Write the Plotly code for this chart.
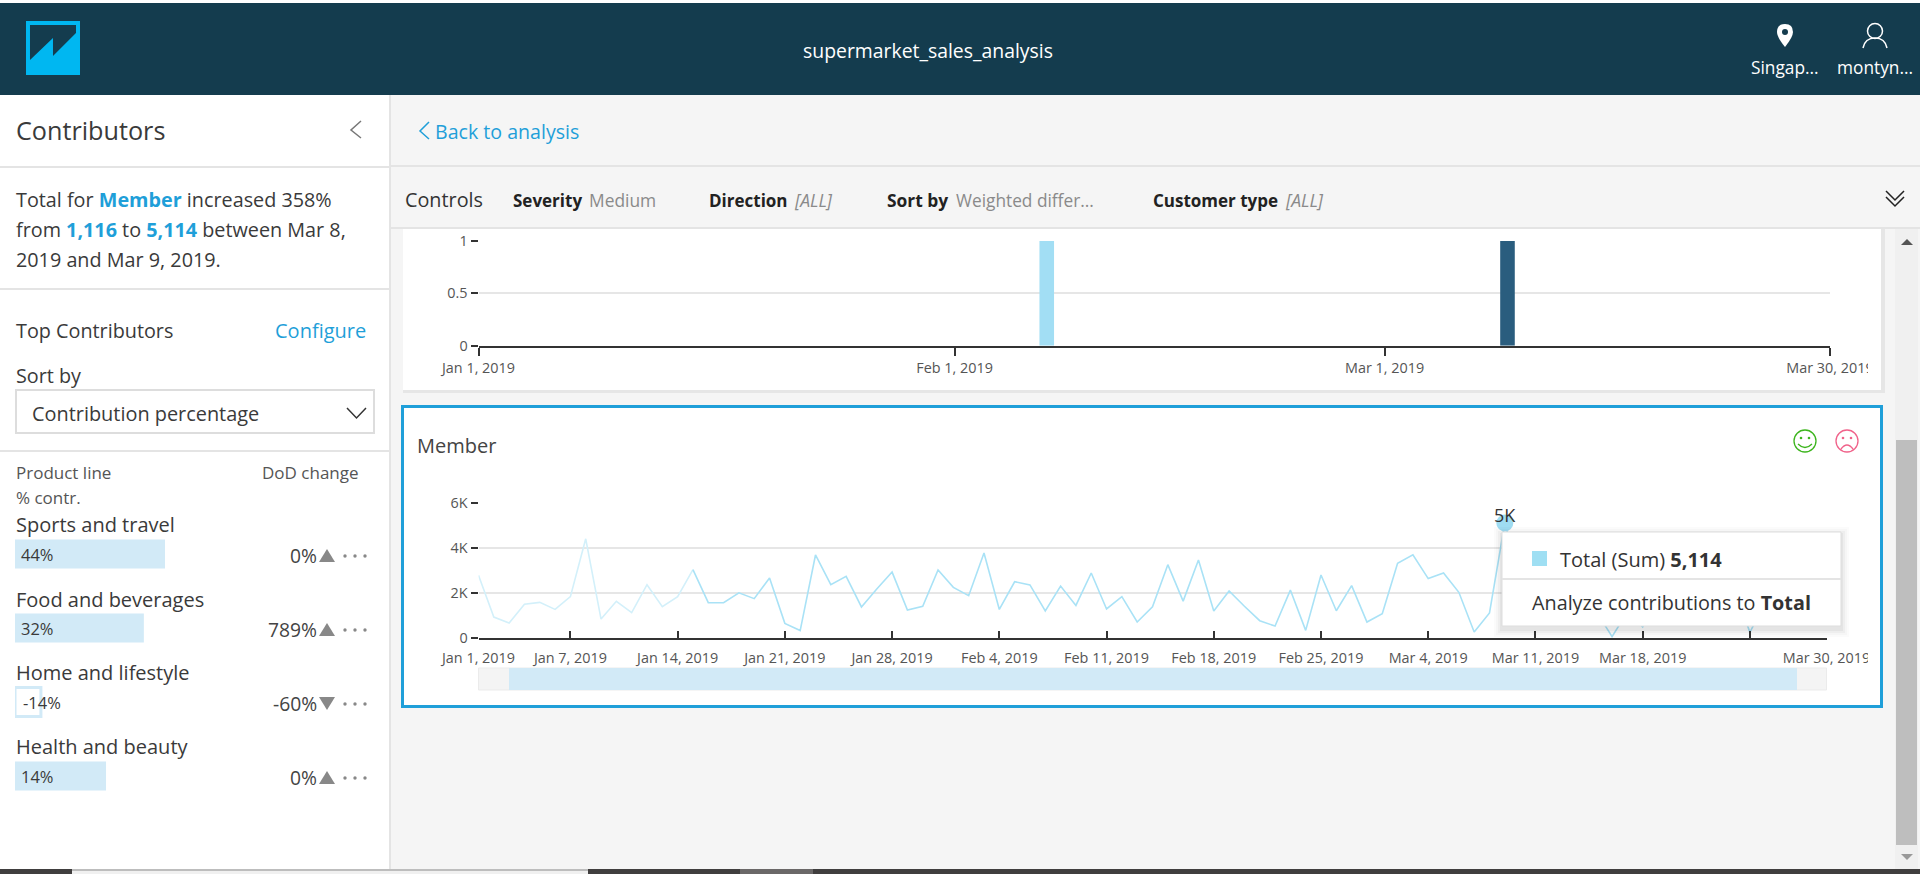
import pandas as pd
import plotly.graph_objects as go

W, H = 1920, 874
FONT = "Open Sans"

# ---- data ----
member_dates = pd.date_range("2019-01-01", "2019-03-30").strftime("%Y-%m-%d").tolist()
member_total = [2785, 930, 670, 1500, 1585, 1270, 1840, 4410, 840, 1630, 1130, 2370, 1390, 1840,
                3040, 1570, 1570, 2010, 1750, 2670, 650, 330, 3690, 2370, 2740, 1380, 2180, 2930,
                1240, 1410, 3020, 2250, 1880, 3780, 1270, 2500, 2360, 1200, 2310, 1450, 2890,
                1290, 1840, 710, 1390, 3260, 1640, 3470, 1200, 2090, 1410, 770, 530, 2130, 340,
                2800, 1210, 2330, 710, 1080, 3320, 3700, 2640, 2890, 2030, 270, 1116, 5114,
                2600, 1800, 2300, 1400, 2100, 1150, 60, 1150, 490, 1900, 2400, 1300, 2000, 1700,
                2200, 250, 1600, 2300, 1200, 1800, 1500]
anomaly_dates = ["2019-02-07", "2019-03-09"]
anomaly_values = [1, 1]
anomaly_colors = ["#A2DEF4", "#2A5D7E"]
anomaly_yticks = [0, 0.5, 1]
anomaly_yticklabels = ["0", "0.5", "1"]
anomaly_xticks = ["2019-01-01", "2019-02-01", "2019-03-01", "2019-03-30"]
anomaly_xticklabels = ["Jan 1, 2019", "Feb 1, 2019", "Mar 1, 2019", "Mar 30, 2019"]
member_xticks = ["2019-01-01", "2019-01-07", "2019-01-14", "2019-01-21", "2019-01-28", "2019-02-04",
                 "2019-02-11", "2019-02-18", "2019-02-25", "2019-03-04", "2019-03-11", "2019-03-18",
                 "2019-03-25", "2019-03-30"]
member_xticklabels = ["Jan 1, 2019", "Jan 7, 2019", "Jan 14, 2019", "Jan 21, 2019", "Jan 28, 2019",
                      "Feb 4, 2019", "Feb 11, 2019", "Feb 18, 2019", "Feb 25, 2019", "Mar 4, 2019",
                      "Mar 11, 2019", "Mar 18, 2019", "", "Mar 30, 2019"]
member_yticks = [0, 2000, 4000, 6000]
member_yticklabels = ["0", "2K", "4K", "6K"]
product_lines = ["Sports and travel", "Food and beverages", "Home and lifestyle", "Health and beauty"]
contribution_labels = ["44%", "32%", "-14%", "14%"]
contribution_bar_lengths = [44, 37.8, 7.6, 26.7]
dod_labels = ["0%", "789%", "-60%", "0%"]
dod_up = [True, True, False, True]

DARK = "#143C4E"
BLUE = "#1F9FD9"
GRID = "#E6E6E6"
INK = "#3A3A3A"
AXIS = "#333333"
PALE = "#D2EAF7"

shapes, annos = [], []


def px(x):
    return x / W


def py(y):
    return 1 - y / H


def rect(x0, y0, x1, y1, fill, line=None, lw=0, layer="below"):
    shapes.append(dict(type="rect", xref="paper", yref="paper", x0=px(x0), x1=px(x1), y0=py(y0), y1=py(y1),
                       fillcolor=fill, line=dict(color=line or fill, width=lw), layer=layer))


def circle(cx, cy, r, fill="rgba(0,0,0,0)", line=None, lw=0, layer="below"):
    shapes.append(dict(type="circle", xref="paper", yref="paper", x0=px(cx - r), x1=px(cx + r), y0=py(cy - r),
                       y1=py(cy + r), fillcolor=fill, line=dict(color=line or fill, width=lw), layer=layer))


def path(cmds, fill=None, line=None, lw=0, layer="below"):
    """cmds: list like [('M',x,y),('L',x,y),('Q',cx,cy,x,y),('Z',)] in page pixels."""
    out = []
    for c in cmds:
        pts = c[1:]
        s = c[0]
        for i in range(0, len(pts), 2):
            s += f" {px(pts[i]):.5f},{py(pts[i + 1]):.5f}"
        out.append(s)
    shapes.append(dict(type="path", xref="paper", yref="paper", path=" ".join(out),
                       fillcolor=fill or "rgba(0,0,0,0)",
                       line=dict(color=line or "rgba(0,0,0,0)", width=lw), layer=layer))


def text(x, y, s, size=15, color=INK, anchor="left"):
    annos.append(dict(xref="paper", yref="paper", x=px(x), y=py(y), text=s, showarrow=False, xanchor=anchor,
                      yanchor="middle", align=anchor, borderpad=0, borderwidth=0,
                      font=dict(family=FONT, size=size, color=color)))


def blue(s):
    return f'<b><span style="color:{BLUE}">{s}</span></b>'


# ---- page chrome ----
rect(0, 0, W, 3, "#FFFFFF")
rect(0, 3, W, 95, DARK)
rect(0, 95, 389, 869, "#FFFFFF")
rect(389, 95, 391, 869, "#E4E4E4")
for y in (167, 289, 451):
    rect(0, y - 1, 389, y + 1, "#E4E4E4")
for y in (166, 228):
    rect(391, y - 1, W, y + 1, "#E4E4E4")

# logo
rect(26, 21, 80, 75, "#00B7F1")
path([("M", 30, 25), ("L", 76, 25), ("L", 76, 33), ("L", 53, 56), ("L", 53, 38), ("L", 30, 60), ("Z",)], fill=DARK)
text(928, 50, "supermarket_sales_analysis", 19.4, "#FFFFFF", "center")
# pin
path([("M", 1785, 47), ("Q", 1777, 37, 1777, 32), ("Q", 1777, 24, 1785, 24), ("Q", 1793, 24, 1793, 32),
      ("Q", 1793, 37, 1785, 47), ("Z",)], fill="#FFFFFF")
circle(1785, 32, 3, DARK)
text(1785, 68, "Singap...", 17.3, "#FFFFFF", "center")
# person
circle(1875, 31, 7.5, "rgba(0,0,0,0)", "#FFFFFF", 1.5)
path([("M", 1863, 48), ("Q", 1865, 38, 1875, 38), ("Q", 1885, 38, 1887, 48)], line="#FFFFFF", lw=1.5)
text(1875, 68, "montyn...", 17.3, "#FFFFFF", "center")

# sidebar
text(16, 130, "Contributors", 25.2)
path([("M", 361, 121), ("L", 351, 130), ("L", 361, 138)], line="#777777", lw=1.5)
text(16, 199, f"Total for {blue('Member')} increased 358%", 19.8)
text(16, 230, f"from {blue('1,116')} to {blue('5,114')} between Mar 8,", 19.8)
text(16, 260, "2019 and Mar 9, 2019.", 19.8)
text(16, 330, "Top Contributors", 19.8)
text(366, 330, "Configure", 20, BLUE, "right")
text(16, 375, "Sort by", 19.8)
shapes.append(dict(type="rect", xref="paper", yref="paper", x0=px(16), x1=px(374), y0=py(390), y1=py(433),
                   fillcolor="#FFFFFF", line=dict(color="#DDDDDD", width=2), layer="below"))
text(32, 413, "Contribution percentage", 19.9)
path([("M", 347, 408), ("L", 356.5, 418), ("L", 366, 408)], line="#333333", lw=1.5)
text(16, 472, "Product line", 17, "#555555")
text(359, 472, "DoD change", 17, "#555555", "right")
text(16, 497, "% contr.", 17, "#555555")

row_title_y = [524, 599, 672, 746]
row_y = [554, 628, 702, 776]
for name, lab, dod, up, ty, ry in zip(product_lines, contribution_labels, dod_labels, dod_up, row_title_y, row_y):
    text(16, ty, name, 20)
    text(23 if lab.startswith("-") else 21, ry, lab, 16.5)
    text(317, ry + 1, dod, 19.3, "#444444", "right")
    if up:
        path([("M", 319, ry + 8), ("L", 327, ry - 5), ("L", 335, ry + 8), ("Z",)], fill="#888888")
    else:
        path([("M", 319, ry - 5), ("L", 335, ry - 5), ("L", 327, ry + 8), ("Z",)], fill="#888888")
    for dx in (345, 355, 365):
        circle(dx, ry + 2, 1.7, "#888888")

# main header rows
path([("M", 429, 122), ("L", 420, 131), ("L", 429, 139)], line=BLUE, lw=1.5)
text(435, 131, "Back to analysis", 19.6, BLUE)
text(405, 199, "Controls", 19.8, "#333333")
text(513, 200, "<b>Severity</b>", 17, "#222222")
text(589, 200, "Medium", 17.4, "#8A8A8A")
text(709, 200, "<b>Direction</b>", 17, "#222222")
text(794, 200, "<i>[ALL]</i>", 17.6, "#8A8A8A")
text(887, 200, "<b>Sort by</b>", 17.4, "#222222")
text(956, 200, "Weighted differ...", 17.3, "#8A8A8A")
text(1153, 200, "<b>Customer type</b>", 17, "#222222")
text(1285, 200, "<i>[ALL]</i>", 17.6, "#8A8A8A")
path([("M", 1886, 191), ("L", 1895, 200), ("L", 1904, 191)], line="#222222", lw=1.5)
path([("M", 1886, 197), ("L", 1895, 206), ("L", 1904, 197)], line="#222222", lw=1.5)

# scroll column
rect(1895, 229, 1918, 869, "#F0F0F0")
rect(1896, 440, 1917, 845, "#BEBEBE")
path([("M", 1901, 245), ("L", 1907, 239), ("L", 1913, 245), ("Z",)], fill="#555555")
path([("M", 1901, 854), ("L", 1913, 854), ("L", 1907, 860), ("Z",)], fill="#999999")

# cards
rect(403, 229, 1881, 390, "#FFFFFF")
rect(403, 390, 1885, 393, GRID)
rect(1881, 229, 1885, 393, GRID)
rect(402.5, 406.5, 1881.5, 706.5, "#FFFFFF", BLUE, 3)
text(417, 445, "Member", 20, "#444444")
circle(1805, 441, 11, "rgba(0,0,0,0)", "#3DB51E", 1.3)
circle(1801, 438, 1.3, "#3DB51E")
circle(1809, 438, 1.3, "#3DB51E")
path([("M", 1798, 444), ("Q", 1805, 451, 1812, 444)], line="#3DB51E", lw=1.3)
circle(1847, 441, 11, "rgba(0,0,0,0)", "#F0628A", 1.3)
circle(1843, 438, 1.3, "#F0628A")
circle(1851, 438, 1.3, "#F0628A")
path([("M", 1841, 449), ("Q", 1847, 441, 1853, 449)], line="#F0628A", lw=1.3)

# range selector
rect(478.5, 668, 1826.5, 690, "#F4F4F4", "#EBEBEB", 1)
rect(509, 668, 1797, 690, PALE)

# bottom strip
rect(0, 869, W, H, "#403E3E")
rect(72, 869, 588, H, "#F0F0F0")
rect(72, 869, 588, 871, "#BDBDBD")
rect(740, 869, 813, H, "#6B6868")

# clip of the last axis labels
rect(1868, 350, 1880, 380, "#FFFFFF", layer="above")
rect(1868, 645, 1880, 665, "#FFFFFF", layer="above")

# tooltip
for grow, op in ((8, 0.015), (6, 0.02), (4, 0.03), (2, 0.04)):
    rect(1502 - grow, 532 - grow + 3, 1841 + grow, 626 + grow + 3, f"rgba(0,0,0,{op})", layer="above")
rect(1502, 532, 1841, 626, "#FFFFFF", "#DDDDDD", 1, layer="above")
rect(1502, 578, 1841, 580, "#E4E4E4", layer="above")
rect(1532, 551, 1547, 566, "#9FDFF3", layer="above")
text(1560, 559, "Total (Sum) <b>5,114</b>", 20, "#333333")
text(1532, 602, "Analyze contributions to <b>Total</b>", 19.8, "#333333")

# ---- traces ----
fig = go.Figure()
fig.add_trace(go.Bar(x=anomaly_dates, y=anomaly_values, width=0.95 * 86400000,
                     marker=dict(color=anomaly_colors, line=dict(width=0)), xaxis="x", yaxis="y",
                     hoverinfo="skip"))
fade_end = 14
fig.add_trace(go.Scatter(x=member_dates[:fade_end + 1], y=member_total[:fade_end + 1], mode="lines",
                         line=dict(color="#D3F0FA", width=1.6), xaxis="x2", yaxis="y2", hoverinfo="skip"))
fig.add_trace(go.Scatter(x=member_dates[fade_end:], y=member_total[fade_end:], mode="lines",
                         line=dict(color="#A9E2F6", width=1.6), xaxis="x2", yaxis="y2", hoverinfo="skip"))
peak = member_total.index(max(member_total))
fig.add_trace(go.Scatter(x=[member_dates[peak]], y=[member_total[peak]], mode="markers",
                         marker=dict(color="#9FDCF2", size=17), xaxis="x2", yaxis="y2", hoverinfo="skip"))
annos.append(dict(xref="x2", yref="y2", x=member_dates[peak], y=member_total[peak], text="5K", showarrow=False,
                  yshift=8, font=dict(family=FONT, size=18, color="#333333"), xanchor="center", yanchor="middle"))
fig.add_trace(go.Bar(y=product_lines, x=contribution_bar_lengths, orientation="h", width=0.39,
                     marker=dict(color=[PALE, PALE, "#FFFFFF", PALE],
                                 line=dict(color=[PALE, PALE, PALE, PALE], width=[0, 0, 3, 0])),
                     xaxis="x3", yaxis="y3", hoverinfo="skip"))

xcommon = dict(type="date", showgrid=False, zeroline=False, showline=True, linecolor=AXIS, linewidth=2,
               tickcolor=AXIS, tickwidth=1.5, tickangle=0, tickmode="array",
               tickfont=dict(family=FONT, size=14.4, color="#555555"))
ycommon = dict(showgrid=True, gridcolor=GRID, gridwidth=2, zeroline=False, showline=False, ticks="outside",
               ticklen=7, tickcolor=AXIS, tickwidth=1.5, tickmode="array",
               tickfont=dict(family=FONT, size=14.4, color="#555555"))

fig.update_layout(
    width=W, height=H, margin=dict(l=0, r=0, t=0, b=0, autoexpand=False), autosize=False,
    paper_bgcolor="#F5F5F5", plot_bgcolor="rgba(0,0,0,0)", showlegend=False, hovermode=False,
    xaxis=dict(domain=[px(478.5), px(1830)], range=["2019-01-01", "2019-03-30"], anchor="y", ticks="outside",
               ticklen=8, tickvals=anomaly_xticks, ticktext=anomaly_xticklabels, **xcommon),
    yaxis=dict(domain=[py(345.7), py(241)], range=[0, 1], anchor="x", tickvals=anomaly_yticks,
               ticktext=anomaly_yticklabels, **ycommon),
    xaxis2=dict(domain=[px(478.5), px(1826.5)], range=["2019-01-01", "2019-03-30"], anchor="y2", ticks="inside",
                ticklen=7, tickvals=member_xticks, ticktext=member_xticklabels, ticklabelstandoff=6, **xcommon),
    yaxis2=dict(domain=[py(638), py(503)], range=[0, 6000], anchor="x2", tickvals=member_yticks,
                ticktext=member_yticklabels, **ycommon),
    xaxis3=dict(domain=[px(15), px(165)], range=[0, 44], anchor="y3", visible=False),
    yaxis3=dict(domain=[py(813), py(517)], categoryorder="array", categoryarray=product_lines[::-1],
                anchor="x3", visible=False),
    shapes=shapes, annotations=annos,
)

fig.write_html("out.html", config={"displayModeBar": False},
               post_script="document.body.style.margin='0';document.body.style.overflow='hidden';")
